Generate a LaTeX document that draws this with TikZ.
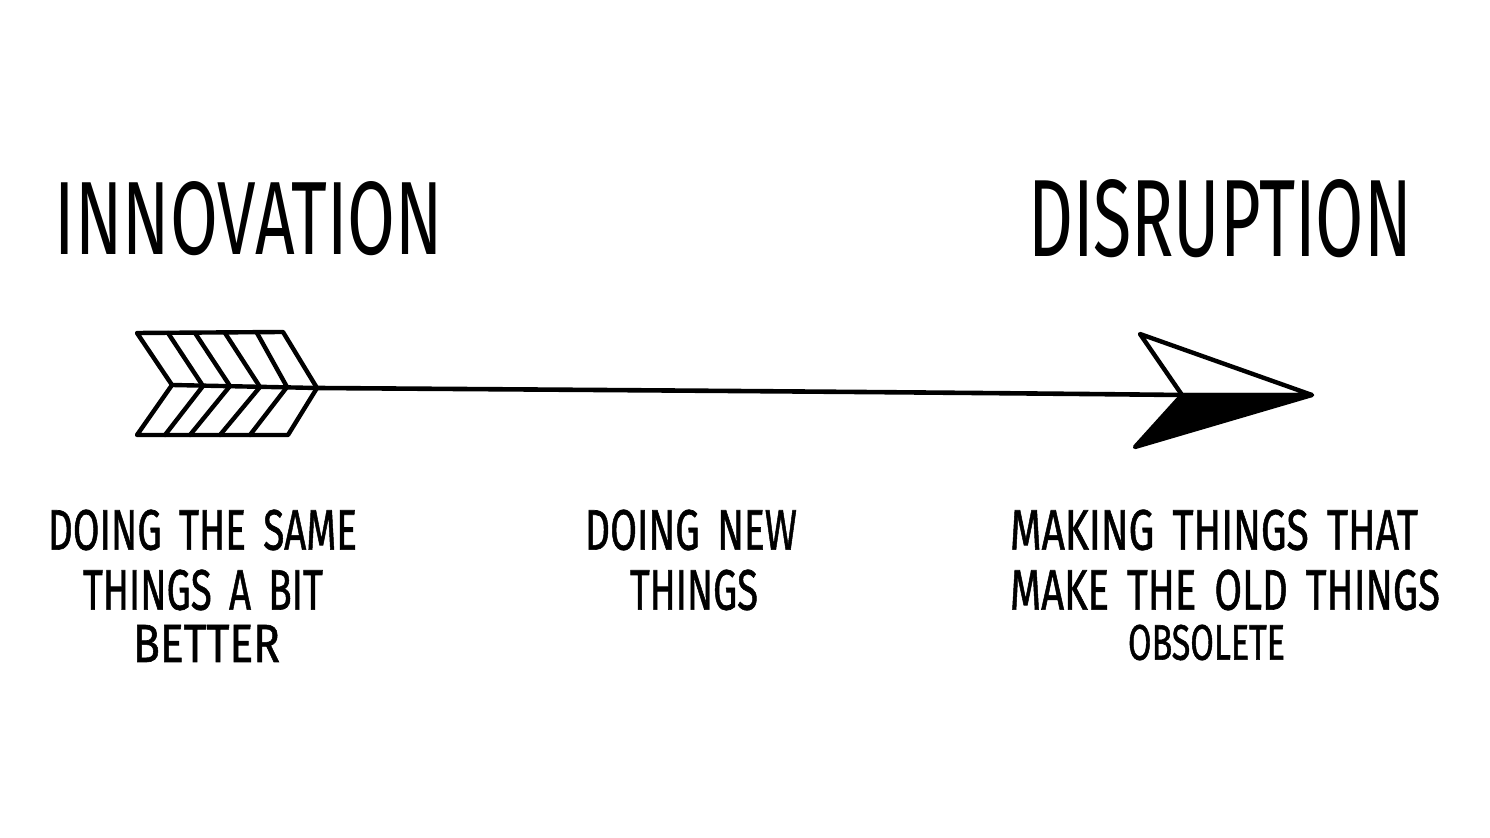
\documentclass[tikz,border=0pt]{standalone}
\usepackage{fontspec}
\usepackage{graphicx}
\setmainfont{Fira Sans}
\newfontfamily\thinfont{Fira Sans}
\newfontfamily\boldishfont{Fira Sans}[FakeBold=1.2]
\newcommand{\fitline}[3]{\resizebox{#1pt}{#2pt}{#3}}
\newcommand{\ws}{\hspace{0.45em}}
\tikzset{
  lbl/.style={inner sep=0pt, outer sep=0pt, anchor=center, font=\boldishfont\fontsize{28}{30}\selectfont},
  ttl/.style={inner sep=0pt, outer sep=0pt, anchor=center, font=\thinfont\fontsize{52}{54}\selectfont},
  ink/.style={line width=2.3pt, line join=round, line cap=round},
  fine/.style={line width=2.2pt, line join=round, line cap=round}
}
\begin{document}
\begin{tikzpicture}[x=0.5pt,y=-0.5pt]
\useasboundingbox (0,0) rectangle (1490,838);
% titles
\node[ttl] (innov) at (249,218.5) {\fitline{194}{36.5}{INNOVATION}};
\node[ttl] (disr) at (1220,218.5) {\fitline{192}{38.5}{DISRUPTION}};
% captions
\node[lbl] (l1a) at (202.5,530) {\fitline{154.5}{20}{DOING\ws THE\ws SAME}};
\node[lbl] (l1b) at (203,590) {\fitline{120}{20}{THINGS\ws A\ws BIT}};
\node[lbl] (l1c) at (206.5,643.5) {\fitline{73.5}{18.5}{BETTER}};
\node[lbl] (l2a) at (691,530) {\fitline{106}{20}{DOING\ws NEW}};
\node[lbl] (l2b) at (694,590) {\fitline{64}{20}{THINGS}};
\node[lbl] (l3a) at (1214,530) {\fitline{204}{20}{MAKING\ws THINGS\ws THAT}};
\node[lbl] (l3b) at (1225,590) {\fitline{215}{20}{MAKE\ws THE\ws OLD\ws THINGS}};
\node[lbl] (l3c) at (1206.5,642.5) {\fitline{78.5}{17.5}{OBSOLETE}};
% fletching
\coordinate (notch) at (172,385);
\coordinate (ftip) at (317,388);
\draw[fine] (137,333) -- (283,332) -- (ftip) -- (288,435) -- (137,435) -- (notch) -- cycle;
\draw[fine] (168,333) -- (203,386) -- (165,435);
\draw[fine] (195,333) -- (230,386) -- (190,435);
\draw[fine] (225,333) -- (260,387) -- (220,435);
\draw[fine] (257,333) -- (287,387) -- (250,435);
\draw[fine] (notch) -- (ftip);
% shaft
\coordinate (hnotch) at (1182,395);
\coordinate (htip) at (1312,395);
\draw[ink] (ftip) .. controls (600,390) and (900,392) .. (hnotch);
% head
\draw[fine, fill=white] (1140,334) -- (htip) -- (hnotch) -- cycle;
\draw[fine, fill=black] (hnotch) -- (htip) -- (1135,447) -- cycle;
\end{tikzpicture}
\end{document}
